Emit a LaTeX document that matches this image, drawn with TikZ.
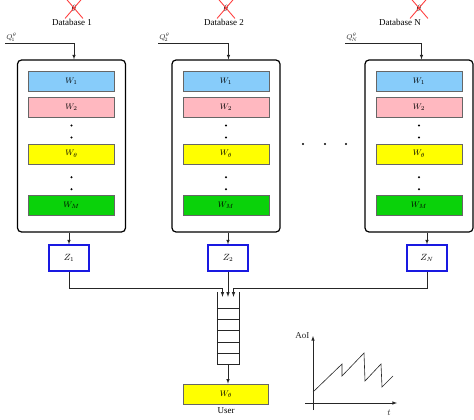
\documentclass[tikz,border=0pt]{standalone}
\usepackage{amsmath,amssymb}
\usepackage{fontspec}
\setmainfont{Liberation Serif}
\usepackage{tikz}
\usetikzlibrary{calc,shapes,arrows,positioning}

\definecolor{wblue}{RGB}{135,204,250}
\definecolor{wpink}{RGB}{255,184,192}
\definecolor{wyellow}{RGB}{255,255,0}
\definecolor{wgreen}{RGB}{10,210,10}
\definecolor{zblue}{RGB}{25,25,225}

\begin{document}
\begin{tikzpicture}[x=1pt,y=-1pt,>=latex,
  dbsym/.style={cross out, draw=red!75, line width=0.9pt, minimum width=17pt, minimum height=20pt, inner sep=0pt, font=\small},
  server/.style={draw, rounded corners=4pt, line width=1.2pt, minimum width=108pt, minimum height=172pt},
  wbox/.style={draw=black!60, line width=0.6pt, minimum width=86pt, minimum height=20pt, inner sep=0pt, font=\footnotesize},
  zbox/.style={draw=zblue, line width=1.2pt, minimum width=40pt, minimum height=26pt, inner sep=0pt, font=\small},
  vdot/.style={fill, circle, inner sep=0.8pt},
  link/.style={semithick, black!85}]

\useasboundingbox (0,0) rectangle (474,420);

% databases
\node[dbsym] (db1) at (74,8) {$\theta$};
\node[dbsym] (db2) at (226,8) {$\theta$};
\node[dbsym] (dbN) at (419,8) {$\theta$};
\node[font=\small] (lab1) at (72,22) {Database 1};
\node[font=\small] (lab2) at (224,22) {Database 2};
\node[font=\small] (labN) at (400,22) {Database N};

% servers
\node[server] (srv1) at (71.5,146) {};
\node[server] (srv2) at (226,146) {};
\node[server] (srvN) at (419,146) {};

\coordinate (q1) at (5,43);
\coordinate (q2) at (158,43);
\coordinate (qN) at (345,43);
\draw[link,->] (q1) node[above right, inner sep=1pt, font=\scriptsize] (ql1) {$Q^{\theta}_{\!1}$} -| ([xshift=2.5pt]srv1.north);
\draw[link,->] (q2) node[above right, inner sep=1pt, font=\scriptsize] (ql2) {$Q^{\theta}_{\!2}$} -| ([xshift=2.5pt]srv2.north);
\draw[link,->] (qN) node[above right, inner sep=1pt, font=\scriptsize] (qlN) {$Q^{\theta}_{\!N}$} -| ([xshift=2.5pt]srvN.north);

% messages in database 1
\node[wbox, fill=wblue, below=12pt of srv1.north] (w11) {$W_1$};
\node[wbox, fill=wpink, below=5pt of w11] (w12) {$W_2$};
\node[wbox, fill=wyellow, below=26pt of w12] (w1t) {$W_\theta$};
\node[wbox, fill=wgreen, below=31pt of w1t] (w1M) {$W_M$};
\node[vdot] at ([yshift=6pt]w1t.north) {};
\node[vdot] at ([yshift=18pt]w1t.north) {};
\node[vdot] at ([yshift=6pt]w1M.north) {};
\node[vdot] at ([yshift=18pt]w1M.north) {};

% messages in database 2
\node[wbox, fill=wblue, below=12pt of srv2.north] (w21) {$W_1$};
\node[wbox, fill=wpink, below=5pt of w21] (w22) {$W_2$};
\node[wbox, fill=wyellow, below=26pt of w22] (w2t) {$W_\theta$};
\node[wbox, fill=wgreen, below=31pt of w2t] (w2M) {$W_M$};
\node[vdot] at ([yshift=6pt]w2t.north) {};
\node[vdot] at ([yshift=18pt]w2t.north) {};
\node[vdot] at ([yshift=6pt]w2M.north) {};
\node[vdot] at ([yshift=18pt]w2M.north) {};

% messages in database N
\node[wbox, fill=wblue, below=12pt of srvN.north] (wN1) {$W_1$};
\node[wbox, fill=wpink, below=5pt of wN1] (wN2) {$W_2$};
\node[wbox, fill=wyellow, below=26pt of wN2] (wNt) {$W_\theta$};
\node[wbox, fill=wgreen, below=31pt of wNt] (wNM) {$W_M$};
\node[vdot] at ([yshift=6pt]wNt.north) {};
\node[vdot] at ([yshift=18pt]wNt.north) {};
\node[vdot] at ([yshift=6pt]wNM.north) {};
\node[vdot] at ([yshift=18pt]wNM.north) {};

% dots between servers
\node[vdot] (hd1) at (303,144) {};
\node[vdot] (hd2) at (325,144) {};
\node[vdot] (hd3) at (346,144) {};

% answers
\node[zbox] (z1) at (69,258) {$Z_1$};
\node[zbox] (z2) at (228,258) {$Z_2$};
\node[zbox] (zN) at (427,258) {$Z_N$};
\draw[link,->] (srv1.south -| z1.north) -- (z1.north);
\draw[link,->] (srv2.south -| z2.north) -- (z2.north);
\draw[link,->] (srvN.south -| zN.north) -- (zN.north);

% queue
\node[minimum width=22pt, minimum height=72pt, inner sep=0pt] (queue) at (228,328) {};
\draw[link] (queue.north west) -- (queue.south west) -- (queue.south east) -- (queue.north east);
\foreach \k in {1,...,5}
  \draw[link] ($(queue.south west)+(0,-\k*11.2)$) -- ($(queue.south east)+(0,-\k*11.2)$);
\coordinate (bus) at ($(queue.north)+(0,-4)$);

\draw[link,->] (z1.south) |- ([xshift=-5.5pt]bus) -- ([xshift=-5.5pt,yshift=-5pt]queue.north);
\draw[link,->] (z2.south) -- ([yshift=-5pt]queue.north);
\draw[link,->] (zN.south) |- ([xshift=5.5pt]bus) -- ([xshift=5.5pt,yshift=-5pt]queue.north);

% user
\node[wbox, fill=wyellow, minimum width=85pt] (wout) at (226,394) {$W_\theta$};
\draw[link,->] (queue.south) -- (queue.south |- wout.north);
\node[below=0pt of wout, font=\small] (user) {User};

% age of information
\coordinate (o) at (313,403);
\draw[link,->] ([yshift=-7pt]o) -- ([yshift=67pt]o) node[left, font=\small] (aoi) {AoI};
\draw[link,->] ([xshift=-8pt]o) -- ([xshift=84pt]o) node[below, xshift=-8pt, yshift=-3pt, font=\small] (tlab) {$t$};
\draw[link] (313,392) -- (342,364) -- (342,376) -- (364,353) -- (365,381) -- (381,364) -- (382,387) -- (393,376);

\end{tikzpicture}
\end{document}
